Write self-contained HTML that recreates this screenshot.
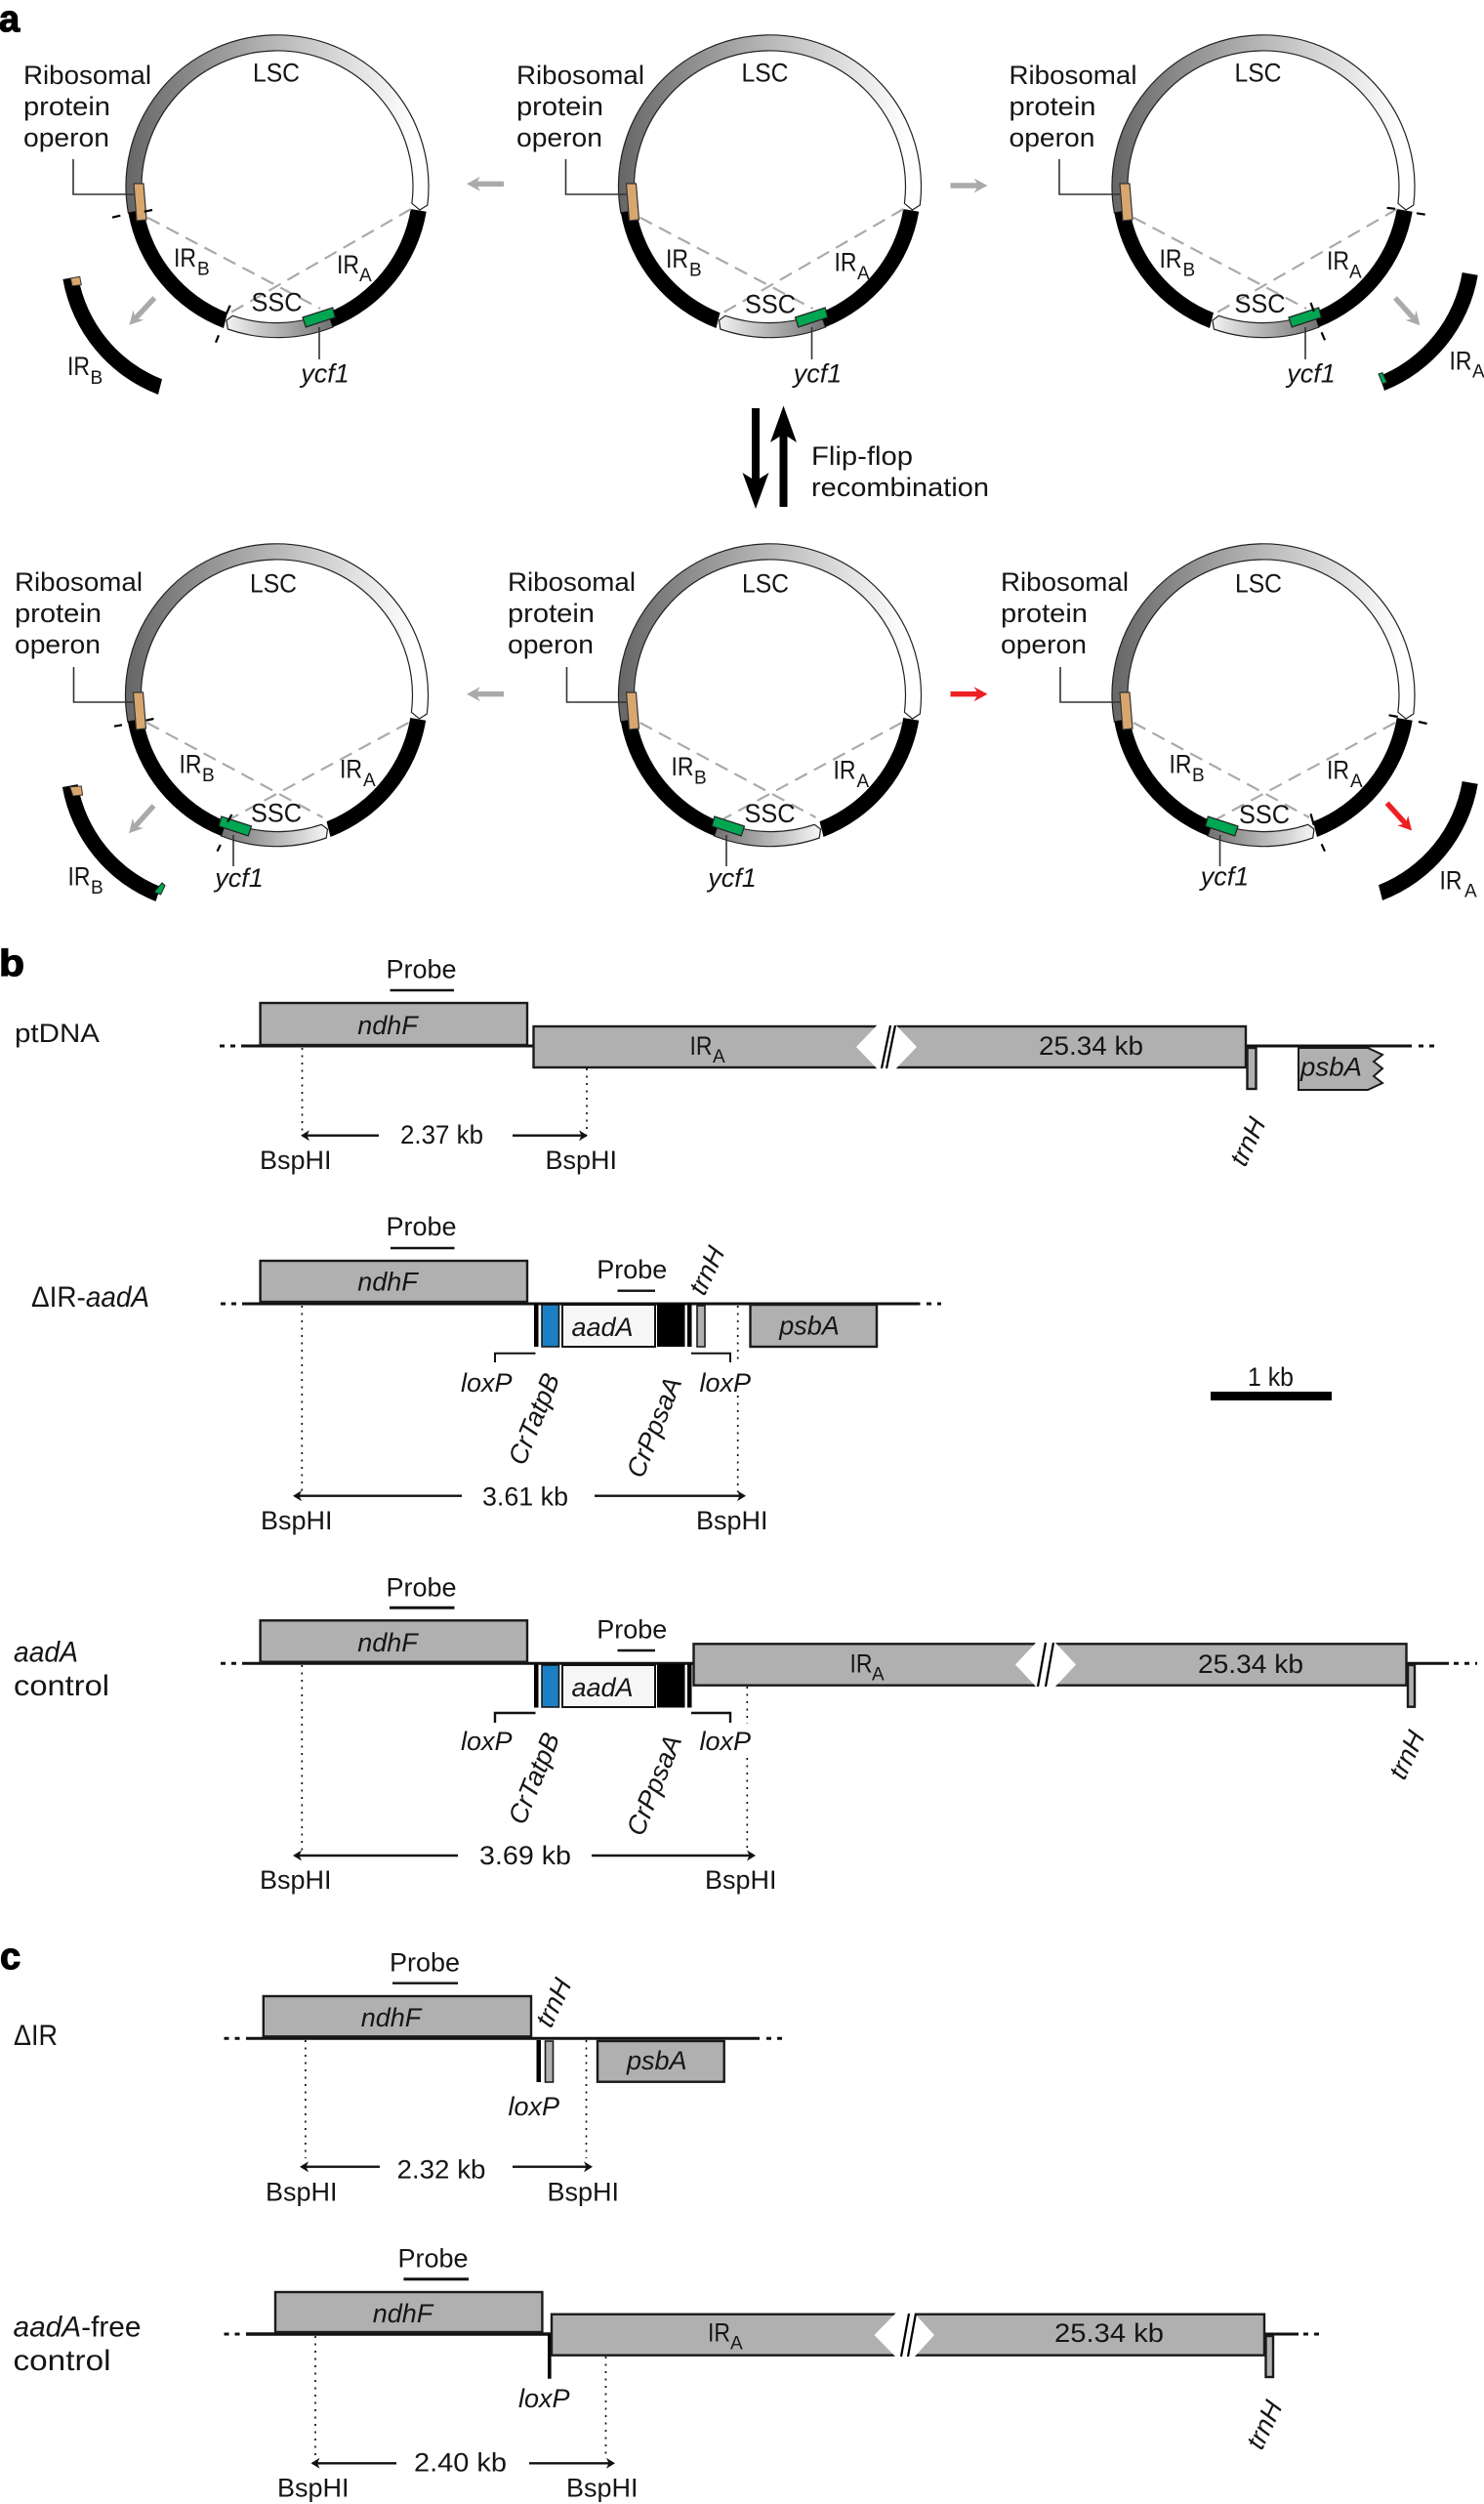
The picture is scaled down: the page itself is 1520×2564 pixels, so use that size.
<!DOCTYPE html>
<html><head><meta charset="utf-8"><style>
html,body{margin:0;padding:0;background:#fff}
svg{display:block}
text{font-family:"Liberation Sans",sans-serif;font-size:27px;fill:#151515}
.i{font-style:italic}
.s{font-size:19px}
.r{font-size:30px}
.p{font-size:38px;font-weight:bold;fill:#000;stroke:#000;stroke-width:1.2}
.box{fill:#b0b0b0;stroke:#1a1a1a;stroke-width:2.4}
.dot{fill:none;stroke:#111;stroke-width:1.7;stroke-dasharray:2 5.5}
.dd{fill:none;stroke:#111;stroke-width:3;stroke-dasharray:5 6}
.l{fill:none;stroke:#111;stroke-width:3}
.d{fill:none;stroke:#111;stroke-width:2.4}
.t{fill:none;stroke:#111;stroke-width:2}
.ld{fill:none;stroke:#333;stroke-width:1.6}
.sl{stroke:#000;stroke-width:2.2}
</style></head><body>
<svg xmlns="http://www.w3.org/2000/svg" width="1520" height="2564" viewBox="0 0 1520 2564">
<defs>
<linearGradient id="gL" gradientUnits="userSpaceOnUse" x1="-155" y1="0" x2="140" y2="0"><stop offset="0" stop-color="#666"/><stop offset=".5" stop-color="#b4b4b4"/><stop offset="1" stop-color="#fff"/></linearGradient>
<linearGradient id="gS1" gradientUnits="userSpaceOnUse" x1="-52" y1="0" x2="57" y2="0"><stop offset="0" stop-color="#f2f2f2"/><stop offset="1" stop-color="#707070"/></linearGradient>
<linearGradient id="gS2" gradientUnits="userSpaceOnUse" x1="-57" y1="0" x2="52" y2="0"><stop offset="0" stop-color="#707070"/><stop offset="1" stop-color="#f6f6f6"/></linearGradient>
<path id="irbT" d="M-152.6,27 A155 155 0 0 0 -55,145 L-51,129.3 A139 139 0 0 1 -136.9,24.1 Z" fill="#000"/>
<path id="iraT" d="M152.7,25.7 A155 155 0 0 1 57,144 L52,129 A139 139 0 0 0 136.7,23 Z" fill="#000"/>
<path id="irbB" d="M-152.6,27 A155 155 0 0 0 -57,144 L-52,129 A139 139 0 0 1 -136.9,24.1 Z" fill="#000"/>
<path id="iraB" d="M152.7,25.7 A155 155 0 0 1 55,145 L51,129.3 A139 139 0 0 0 136.7,23 Z" fill="#000"/>
<g id="ringT">
<path d="M-152.6,27 A155 155 0 1 1 153.8,19 L146,24 L137.9,17.3 A139 139 0 1 0 -136.9,24.1 Z" fill="url(#gL)" stroke="#222" stroke-width="1.2"/>
<path d="M-50.7,146 A155 155 0 0 0 57,144 L52,129 A139 139 0 0 1 -45.7,132.3 L-52,137 Z" fill="url(#gS1)" stroke="#222" stroke-width="1.2"/>
<use href="#irbT"/><use href="#iraT"/>
<path d="M-133,31.7 L44,125 M137,23 L-51,131" fill="none" stroke="#aaa" stroke-width="2.2" stroke-dasharray="14 8"/>
<polygon points="-147,-3 -137,-3 -134,34 -144,35" fill="#d8a76e" stroke="#333" stroke-width="1.2"/>
<polygon points="26,134 56.7,124 59.3,134 29.3,144" fill="#00a651" stroke="#222" stroke-width="1.2"/>
<path class="ld" d="M-209,-28 V8 H-147 M43,144 V177"/>
</g>
<g id="ringB">
<path d="M-152.6,27 A155 155 0 1 1 153.8,19 L146,24 L137.9,17.3 A139 139 0 1 0 -136.9,24.1 Z" fill="url(#gL)" stroke="#222" stroke-width="1.2"/>
<path d="M50.7,146 A155 155 0 0 1 -57,144 L-52,129 A139 139 0 0 0 45.7,132.3 L52,137 Z" fill="url(#gS2)" stroke="#222" stroke-width="1.2"/>
<use href="#irbB"/><use href="#iraB"/>
<path d="M-133,28 L47,125 M135,28 L-54,130" fill="none" stroke="#aaa" stroke-width="2.2" stroke-dasharray="14 8"/>
<polygon points="-147,-3 -137,-3 -134,34 -144,35" fill="#d8a76e" stroke="#333" stroke-width="1.2"/>
<polygon points="-26,134 -56.7,124 -59.3,134 -29.3,144" fill="#00a651" stroke="#222" stroke-width="1.2"/>
<path class="ld" d="M-208,-29 V7 H-147 M-44.5,143 V175"/>
</g>
<path id="ar" d="M0,-2.7 L27,-2.7 L24,-7.5 L38,0 L24,7.5 L27,2.7 L0,2.7 Z"/>
<path id="hd" d="M0,0 L-9,-5.5 L-6.5,0 L-9,5.5 Z" fill="#111"/>
</defs>

<!-- panel a -->
<text class="p" x="-1" y="32">a</text>
<use href="#ringT" transform="translate(284,191)"/>
<use href="#ringT" transform="translate(788.5,191)"/>
<use href="#ringT" transform="translate(1294,191)"/>
<use href="#ringB" transform="translate(283.5,712)"/>
<use href="#ringB" transform="translate(788.5,712)"/>
<use href="#ringB" transform="translate(1294,712)"/>

<use href="#irbT" transform="translate(217,259)"/>
<polygon points="72.3,285 81.7,283.3 83.3,291.7 74,292.7" fill="#d8a76e" stroke="#333"/>
<use href="#iraT" transform="translate(1361,256)"/>
<polygon points="1412,382.8 1416,381.7 1420.6,391.4 1416,393" fill="#00a651" stroke="#222"/>
<use href="#irbB" transform="translate(216.5,779)"/>
<polygon points="71.6,805.7 83.3,805 84.6,814 74.8,815" fill="#d8a76e" stroke="#333"/>
<polygon points="158,913.3 166,904 169,906.7 164.6,916" fill="#00a651" stroke="#222"/>
<use href="#iraB" transform="translate(1361,777)"/>

<!-- ticks -->
<path class="sl" d="M115,222.7 L123.3,220.7 M147.7,216.7 L156,215 M235.7,312.7 L231.7,321.7 M224,343.3 L221,350.7"/>
<path class="sl" d="M1420.6,212.8 L1429,213.8 M1451,218.3 L1459.7,219.7 M1342.5,310 L1345.8,319 M1353.6,340.3 L1357,348.3"/>
<path class="sl" d="M117,743.7 L125,742.3 M149.6,737.7 L157.4,736 M237.5,834 L233,841.7 M225.8,865 L222.5,871.7"/>
<path class="sl" d="M1422.6,732.3 L1431.7,734 M1453,739 L1461.6,741 M1342.5,833.3 L1345.8,845 M1353.6,864.3 L1357,871.7"/>

<!-- circle labels: top -->
<text x="24" y="86" textLength="131" lengthAdjust="spacingAndGlyphs">Ribosomal</text><text x="24" y="118" textLength="89" lengthAdjust="spacingAndGlyphs">protein</text><text x="24" y="150" textLength="88" lengthAdjust="spacingAndGlyphs">operon</text>
<text x="529" y="86" textLength="131" lengthAdjust="spacingAndGlyphs">Ribosomal</text><text x="529" y="118" textLength="89" lengthAdjust="spacingAndGlyphs">protein</text><text x="529" y="150" textLength="88" lengthAdjust="spacingAndGlyphs">operon</text>
<text x="1033.5" y="86" textLength="131" lengthAdjust="spacingAndGlyphs">Ribosomal</text><text x="1033.5" y="118" textLength="89" lengthAdjust="spacingAndGlyphs">protein</text><text x="1033.5" y="150" textLength="88" lengthAdjust="spacingAndGlyphs">operon</text>
<text x="259" y="83.5" textLength="48" lengthAdjust="spacingAndGlyphs">LSC</text>
<text x="759.5" y="83.5" textLength="48" lengthAdjust="spacingAndGlyphs">LSC</text>
<text x="1264.5" y="83.5" textLength="48" lengthAdjust="spacingAndGlyphs">LSC</text>
<text x="257.5" y="318.5" textLength="52" lengthAdjust="spacingAndGlyphs">SSC</text>
<text x="763" y="320.5" textLength="52" lengthAdjust="spacingAndGlyphs">SSC</text>
<text x="1264.5" y="320" textLength="52" lengthAdjust="spacingAndGlyphs">SSC</text>
<text x="178" y="273" textLength="23" lengthAdjust="spacingAndGlyphs">IR</text><text class="s" x="202" y="281.5">B</text>
<text x="345" y="280" textLength="23" lengthAdjust="spacingAndGlyphs">IR</text><text class="s" x="368" y="288">A</text>
<text x="682" y="274" textLength="23" lengthAdjust="spacingAndGlyphs">IR</text><text class="s" x="706" y="282.5">B</text>
<text x="854.5" y="277.5" textLength="23" lengthAdjust="spacingAndGlyphs">IR</text><text class="s" x="878" y="286">A</text>
<text x="1187.5" y="274" textLength="23" lengthAdjust="spacingAndGlyphs">IR</text><text class="s" x="1211.5" y="282.5">B</text>
<text x="1359" y="276" textLength="23" lengthAdjust="spacingAndGlyphs">IR</text><text class="s" x="1382" y="284.5">A</text>
<text x="69" y="384" textLength="23" lengthAdjust="spacingAndGlyphs">IR</text><text class="s" x="92.5" y="393">B</text>
<text x="1484.5" y="378.5" textLength="23" lengthAdjust="spacingAndGlyphs">IR</text><text class="s" x="1508" y="386.5">A</text>
<text class="i" x="333" y="391.5" text-anchor="middle">ycf1</text>
<text class="i" x="837.5" y="391.5" text-anchor="middle">ycf1</text>
<text class="i" x="1343" y="391.5" text-anchor="middle">ycf1</text>

<!-- circle labels: bottom -->
<text x="15" y="605" textLength="131" lengthAdjust="spacingAndGlyphs">Ribosomal</text><text x="15" y="637" textLength="89" lengthAdjust="spacingAndGlyphs">protein</text><text x="15" y="669" textLength="88" lengthAdjust="spacingAndGlyphs">operon</text>
<text x="520" y="605" textLength="131" lengthAdjust="spacingAndGlyphs">Ribosomal</text><text x="520" y="637" textLength="89" lengthAdjust="spacingAndGlyphs">protein</text><text x="520" y="669" textLength="88" lengthAdjust="spacingAndGlyphs">operon</text>
<text x="1025" y="605" textLength="131" lengthAdjust="spacingAndGlyphs">Ribosomal</text><text x="1025" y="637" textLength="89" lengthAdjust="spacingAndGlyphs">protein</text><text x="1025" y="669" textLength="88" lengthAdjust="spacingAndGlyphs">operon</text>
<text x="256" y="606.5" textLength="48" lengthAdjust="spacingAndGlyphs">LSC</text>
<text x="760" y="606.5" textLength="48" lengthAdjust="spacingAndGlyphs">LSC</text>
<text x="1265" y="606.5" textLength="48" lengthAdjust="spacingAndGlyphs">LSC</text>
<text x="257" y="841.5" textLength="52" lengthAdjust="spacingAndGlyphs">SSC</text>
<text x="762.5" y="842" textLength="52" lengthAdjust="spacingAndGlyphs">SSC</text>
<text x="1269" y="843" textLength="52" lengthAdjust="spacingAndGlyphs">SSC</text>
<text x="183.5" y="791.5" textLength="23" lengthAdjust="spacingAndGlyphs">IR</text><text class="s" x="207" y="800">B</text>
<text x="348" y="796.5" textLength="23" lengthAdjust="spacingAndGlyphs">IR</text><text class="s" x="372" y="805">A</text>
<text x="687.5" y="794" textLength="23" lengthAdjust="spacingAndGlyphs">IR</text><text class="s" x="711" y="802.5">B</text>
<text x="853.5" y="797.5" textLength="23" lengthAdjust="spacingAndGlyphs">IR</text><text class="s" x="877.5" y="806">A</text>
<text x="1197.5" y="791.5" textLength="23" lengthAdjust="spacingAndGlyphs">IR</text><text class="s" x="1221" y="800">B</text>
<text x="1359" y="797.5" textLength="23" lengthAdjust="spacingAndGlyphs">IR</text><text class="s" x="1383" y="806">A</text>
<text x="69.5" y="906.5" textLength="23" lengthAdjust="spacingAndGlyphs">IR</text><text class="s" x="93" y="915">B</text>
<text x="1474.5" y="910.5" textLength="23" lengthAdjust="spacingAndGlyphs">IR</text><text class="s" x="1500" y="918.5">A</text>
<text class="i" x="245" y="908" text-anchor="middle">ycf1</text>
<text class="i" x="750" y="908" text-anchor="middle">ycf1</text>
<text class="i" x="1254.5" y="906.5" text-anchor="middle">ycf1</text>

<!-- arrows -->
<use href="#ar" fill="#aaa" transform="translate(516,188.3) rotate(180)"/>
<use href="#ar" fill="#aaa" transform="translate(973.5,190)"/>
<use href="#ar" fill="#aaa" transform="translate(158.3,305) rotate(133)"/>
<use href="#ar" fill="#aaa" transform="translate(1429,305) rotate(48)"/>
<use href="#ar" fill="#aaa" transform="translate(157.5,825) rotate(132)"/>
<use href="#ar" fill="#aaa" transform="translate(516,710.7) rotate(180)"/>
<use href="#ar" fill="#ed2024" transform="translate(973.5,710.7)"/>
<use href="#ar" fill="#ed2024" transform="translate(1420.6,822.3) rotate(48)"/>
<path d="M770,418 H778 V490 L787.5,484 L774,521 L760.5,484 L770,490 Z" fill="#000"/>
<path d="M798.5,519 H806.5 V447 L816,453 L802.5,415.5 L789,453 L798.5,447 Z" fill="#000"/>
<text x="831" y="476" textLength="104" lengthAdjust="spacingAndGlyphs">Flip-flop</text>
<text x="831" y="508" textLength="182" lengthAdjust="spacingAndGlyphs">recombination</text>

<!-- panel b row 1 -->
<text class="p" x="-1" y="999" textLength="26" lengthAdjust="spacingAndGlyphs">b</text>
<text x="15" y="1067" textLength="87" lengthAdjust="spacingAndGlyphs">ptDNA</text>
<text x="431.5" y="1001.5" text-anchor="middle">Probe</text>
<path class="d" d="M399.5,1014 H465"/>
<path class="dd" d="M225,1071 H250"/>
<path class="l" d="M250,1071 H546"/>
<rect class="box" x="266.6" y="1027" width="273.4" height="43"/>
<text class="i" x="397" y="1059" text-anchor="middle">ndhF</text>
<path class="l" d="M1276,1071 H1446"/>
<path class="dd" d="M1453,1071 H1470"/>
<rect class="box" x="546.5" y="1051" width="729.5" height="42"/>
<polygon points="877,1072 899,1049 917,1049 939,1072 917,1095 899,1095" fill="#fff"/>
<path class="sl" d="M912,1050 L903,1094 M917,1050 L908,1094"/>
<text x="706.5" y="1080" textLength="23" lengthAdjust="spacingAndGlyphs">IR</text><text class="s" x="730" y="1088">A</text>
<text x="1064" y="1080" textLength="107" lengthAdjust="spacingAndGlyphs">25.34 kb</text>
<rect class="box" x="1277.5" y="1073" width="9" height="42"/>
<path d="M1330,1073 H1401 L1416,1080 L1407,1087 L1416,1094 L1407,1102 L1416,1109 L1401,1116 H1330 Z" fill="#b0b0b0" stroke="#1a1a1a" stroke-width="2"/>
<text class="i" x="1332" y="1101.5" textLength="63" lengthAdjust="spacingAndGlyphs">psbA</text>
<path class="dot" d="M309.5,1073 V1160 M601,1094 V1160"/>
<path class="d" d="M310,1162.7 H388 M525,1162.7 H601"/>
<use href="#hd" transform="translate(308,1162.7) rotate(180)"/><use href="#hd" transform="translate(602,1162.7)"/>
<text x="410" y="1171" textLength="85" lengthAdjust="spacingAndGlyphs">2.37 kb</text>
<text x="266" y="1197">BspHI</text><text x="558.5" y="1197">BspHI</text>
<text class="i" transform="translate(1278,1169) rotate(-65)" text-anchor="middle" dy="9">trnH</text>

<!-- row 2 -->
<text class="r" x="32" y="1338" textLength="121" lengthAdjust="spacingAndGlyphs" style="font-family:'Liberation Sans','DejaVu Sans',sans-serif">ΔIR-<tspan class="i">aadA</tspan></text>
<text x="431.5" y="1265" text-anchor="middle">Probe</text>
<path class="d" d="M400,1278 H465.5"/>
<path class="dd" d="M226,1335 H249"/>
<path class="l" d="M249,1335 H942.5"/>
<path class="dd" d="M949,1335 H964"/>
<rect class="box" x="266.6" y="1291" width="273.4" height="42"/>
<text class="i" x="397" y="1321.5" text-anchor="middle">ndhF</text>
<rect x="547" y="1335" width="4.5" height="44" fill="#000"/>
<rect x="555" y="1336" width="17.5" height="43" fill="#1b80c3" stroke="#111" stroke-width="1.5"/>
<rect x="576" y="1336" width="95" height="43" fill="#f6f6f6" stroke="#111" stroke-width="2"/>
<rect x="673" y="1335" width="28.5" height="44" fill="#000"/>
<rect x="704" y="1335" width="4.5" height="44" fill="#000"/>
<rect x="714" y="1337" width="8" height="42" fill="#b0b0b0" stroke="#1a1a1a" stroke-width="1.6"/>
<rect class="box" x="768.5" y="1336" width="129.5" height="43"/>
<text class="i" x="617" y="1368" text-anchor="middle">aadA</text>
<text class="i" x="829" y="1366.5" text-anchor="middle">psbA</text>
<text x="647.3" y="1309" text-anchor="middle">Probe</text>
<path class="d" d="M632.5,1321.7 H671"/>
<text class="i" transform="translate(724,1301) rotate(-65)" text-anchor="middle" dy="9">trnH</text>
<path class="t" d="M507,1395 V1385.7 H548.5 M708,1385.7 H748 V1395"/>
<text class="i" x="472" y="1425">loxP</text><text class="i" x="716.5" y="1425">loxP</text>
<text class="i" transform="translate(547,1453) rotate(-68)" text-anchor="middle" dy="9">CrTatpB</text>
<text class="i" transform="translate(670,1461.5) rotate(-68)" text-anchor="middle" dy="9">CrPpsaA</text>
<path class="dot" d="M309.3,1337 V1528 M755.7,1337 V1395 M755.7,1429 V1528"/>
<path class="d" d="M302,1531.7 H473 M609,1531.7 H762"/>
<use href="#hd" transform="translate(300,1531.7) rotate(180)"/><use href="#hd" transform="translate(764,1531.7)"/>
<text x="494" y="1541.5" textLength="88" lengthAdjust="spacingAndGlyphs">3.61 kb</text>
<text x="267" y="1566">BspHI</text><text x="713" y="1566">BspHI</text>
<text x="1278" y="1419" textLength="47" lengthAdjust="spacingAndGlyphs">1 kb</text>
<rect x="1240" y="1425" width="124" height="9" fill="#000"/>

<!-- row 3 -->
<text class="r i" x="14" y="1701.5" textLength="66" lengthAdjust="spacingAndGlyphs">aadA</text><text class="r" x="14" y="1736" textLength="98" lengthAdjust="spacingAndGlyphs">control</text>
<text x="431.5" y="1634.5" text-anchor="middle">Probe</text>
<path class="d" d="M399,1646.3 H465.5" style="stroke-width:3"/>
<path class="dd" d="M226,1703.3 H249"/>
<path class="l" d="M249,1703.3 H711"/>
<rect class="box" x="266.6" y="1659.3" width="273.4" height="42.4"/>
<text class="i" x="397" y="1691" text-anchor="middle">ndhF</text>
<rect x="547" y="1704" width="4.5" height="44.5" fill="#000"/>
<rect x="555" y="1705" width="17.5" height="43" fill="#1b80c3" stroke="#111" stroke-width="1.5"/>
<rect x="576" y="1705" width="95" height="43" fill="#f6f6f6" stroke="#111" stroke-width="2"/>
<rect x="673" y="1704" width="28.5" height="44.5" fill="#000"/>
<rect x="704" y="1704" width="4.5" height="44.5" fill="#000"/>
<text class="i" x="617" y="1737" text-anchor="middle">aadA</text>
<text x="647.3" y="1677.5" text-anchor="middle">Probe</text>
<path class="d" d="M632.5,1690 H671"/>
<path class="l" d="M1440,1703.3 H1484"/>
<path class="dd" d="M1489,1703.3 H1513"/>
<rect class="box" x="710.5" y="1683.3" width="730" height="42.4"/>
<polygon points="1040,1704.5 1062,1681 1080,1681 1102,1704.5 1080,1728 1062,1728" fill="#fff"/>
<path class="sl" d="M1071,1682 L1063,1727 M1079,1682 L1071,1727"/>
<text x="870.5" y="1712.5" textLength="23" lengthAdjust="spacingAndGlyphs">IR</text><text class="s" x="893" y="1720.5">A</text>
<text x="1227" y="1713" textLength="108" lengthAdjust="spacingAndGlyphs">25.34 kb</text>
<rect class="box" x="1442" y="1705" width="7" height="42.7"/>
<text class="i" transform="translate(1441,1797) rotate(-65)" text-anchor="middle" dy="9">trnH</text>
<path class="t" d="M507,1764 V1754 H548.5 M708,1754 H748 V1764" style="stroke-width:2.4"/>
<text class="i" x="472" y="1792">loxP</text><text class="i" x="716.5" y="1792">loxP</text>
<text class="i" transform="translate(547,1821) rotate(-68)" text-anchor="middle" dy="9">CrTatpB</text>
<text class="i" transform="translate(670,1828) rotate(-68)" text-anchor="middle" dy="9">CrPpsaA</text>
<path class="dot" d="M309.3,1705 V1897 M765.3,1727 V1765 M765.3,1800 V1897"/>
<path class="d" d="M302,1900 H469 M606,1900 H771"/>
<use href="#hd" transform="translate(300,1900) rotate(180)"/><use href="#hd" transform="translate(774,1900)"/>
<text x="491" y="1909" textLength="94" lengthAdjust="spacingAndGlyphs">3.69 kb</text>
<text x="266" y="1934">BspHI</text><text x="722" y="1934">BspHI</text>

<!-- panel c row 4 -->
<text class="p" x="0" y="2016">c</text>
<text class="r" x="14" y="2094" textLength="45" lengthAdjust="spacingAndGlyphs" style="font-family:'Liberation Sans','DejaVu Sans',sans-serif">ΔIR</text>
<text x="435" y="2018.5" text-anchor="middle">Probe</text>
<path class="d" d="M402,2030.7 H469"/>
<path class="dd" d="M229.5,2087.3 H250"/>
<path class="l" d="M252,2087.3 H778"/>
<path class="dd" d="M785,2087.3 H801"/>
<rect class="box" x="269.8" y="2044" width="274.2" height="41.3"/>
<text class="i" x="400.5" y="2075" text-anchor="middle">ndhF</text>
<rect x="549.5" y="2089" width="4.5" height="43" fill="#000"/>
<rect x="558.5" y="2090" width="8" height="42" fill="#b0b0b0" stroke="#1a1a1a" stroke-width="1.6"/>
<rect class="box" x="612" y="2090" width="129.7" height="41.7"/>
<text class="i" x="672.8" y="2119" text-anchor="middle">psbA</text>
<text class="i" transform="translate(567,2050.7) rotate(-65)" text-anchor="middle" dy="9">trnH</text>
<text class="i" x="520.5" y="2166">loxP</text>
<path class="dot" d="M312.9,2089 V2210 M600.5,2089 V2210"/>
<path class="d" d="M309,2218.7 H389 M525,2218.7 H605"/>
<use href="#hd" transform="translate(307,2218.7) rotate(180)"/><use href="#hd" transform="translate(607,2218.7)"/>
<text x="406.5" y="2230.5" textLength="91" lengthAdjust="spacingAndGlyphs">2.32 kb</text>
<text x="272" y="2253.5">BspHI</text><text x="560.5" y="2253.5">BspHI</text>

<!-- row 5 -->
<text class="r" x="13.5" y="2392.5" textLength="131" lengthAdjust="spacingAndGlyphs"><tspan class="i">aadA</tspan>-free</text><text class="r" x="13.5" y="2427" textLength="100" lengthAdjust="spacingAndGlyphs">control</text>
<text x="443.5" y="2321.5" text-anchor="middle">Probe</text>
<path class="d" d="M413.4,2333.7 H480" style="stroke-width:3"/>
<path class="dd" d="M229.5,2390 H250"/>
<path class="l" d="M252,2390 H565" style="stroke-width:3.5"/>
<rect class="box" x="282" y="2347" width="273.4" height="41"/>
<text class="i" x="412.5" y="2378" text-anchor="middle">ndhF</text>
<rect x="561" y="2390" width="3.6" height="45.7" fill="#000"/>
<path class="l" d="M1296,2390 H1330"/>
<path class="dd" d="M1335,2390 H1353"/>
<rect class="box" x="565" y="2369.7" width="730" height="42"/>
<polygon points="895.5,2391 918,2368 936,2368 957,2391 936,2414 918,2414" fill="#fff"/>
<path class="sl" d="M931,2369 L923,2413 M938,2369 L930,2413"/>
<text x="725" y="2397.5" textLength="23" lengthAdjust="spacingAndGlyphs">IR</text><text class="s" x="748" y="2405.5">A</text>
<text x="1080" y="2398" textLength="112" lengthAdjust="spacingAndGlyphs">25.34 kb</text>
<rect class="box" x="1296.5" y="2392" width="7.5" height="42"/>
<text class="i" transform="translate(1295,2483) rotate(-65)" text-anchor="middle" dy="9">trnH</text>
<text class="i" x="531" y="2465">loxP</text>
<path class="dot" d="M323,2392 V2518 M620.5,2413 V2518"/>
<path class="d" d="M320,2522.3 H406 M542,2522.3 H627"/>
<use href="#hd" transform="translate(318.5,2522.3) rotate(180)"/><use href="#hd" transform="translate(630,2522.3)"/>
<text x="424" y="2530.5" textLength="95" lengthAdjust="spacingAndGlyphs">2.40 kb</text>
<text x="284" y="2556.5">BspHI</text><text x="580" y="2556.5">BspHI</text>
</svg>
</body></html>
